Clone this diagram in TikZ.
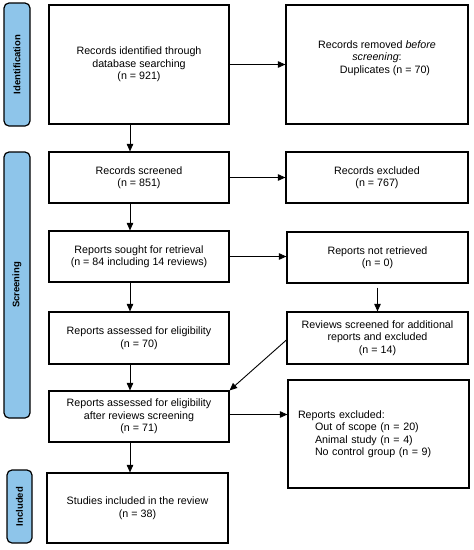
\documentclass[tikz,border=0pt]{standalone}
\usepackage{fontspec}
\setmainfont{Liberation Sans}
\usetikzlibrary{arrows.meta}
\definecolor{phaseblue}{HTML}{8EC5EA}
\begin{document}
\begin{tikzpicture}[x=1pt, y=-1pt,
  box/.style={draw=black, line width=1.2pt, align=center, inner sep=0pt, font=\fontsize{10.7}{12.5}\selectfont},
  phase/.style={draw=black, line width=1.2pt, fill=phaseblue, rounded corners=5pt, rotate=90, inner sep=0pt, font=\bfseries\fontsize{9.5}{12}\selectfont},
  arr/.style={-{Triangle[length=7.5pt,width=6.5pt]}, line width=0.9pt}]
\useasboundingbox (0,0) rectangle (474,550);
% phases
\node[phase, minimum width=123pt, minimum height=26pt] (ident) at (17,64.5) {Identification};
\node[phase, minimum width=266pt, minimum height=26pt] (screen) at (17,285) {Screening};
\node[phase, minimum width=73pt, minimum height=25pt] (incl) at (19.5,506.5) {Included};
% left column
\node[box, minimum width=180pt, minimum height=119pt] (recid) at (139,64.5) {Records identified through\\database searching\\(n = 921)};
\node[box, minimum width=180pt, minimum height=51pt] (screened) at (139,177.5) {Records screened\\(n = 851)};
\node[box, minimum width=180pt, minimum height=51pt] (sought) at (139,256.5) {Reports sought for retrieval\\(n = 84 including 14 reviews)};
\node[box, minimum width=180pt, minimum height=52pt] (assessed) at (139,338) {Reports assessed for eligibility\\(n = 70)};
\node[box, minimum width=180pt, minimum height=51pt] (after) at (139,416.5) {Reports assessed for eligibility\\after reviews screening\\(n = 71)};
\node[box, minimum width=181pt, minimum height=70pt] (studies) at (137.5,508) {Studies included in the review\\(n = 38)};
% right column
\node[box, minimum width=182pt, minimum height=119pt] (removed) at (377,64.5) {Records removed \textit{before}\\\textit{screening}:\\\hspace*{16pt}Duplicates (n = 70)\\[3pt]};
\node[box, minimum width=182pt, minimum height=51pt] (recexcl) at (377,177.5) {Records excluded\\(n = 767)};
\node[box, minimum width=181pt, minimum height=51pt] (notret) at (377.5,257.5) {Reports not retrieved\\(n = 0)};
\node[box, minimum width=181pt, minimum height=52pt] (reviews) at (377.5,338) {Reviews screened for additional\\reports and excluded\\(n = 14)};
\node[box, minimum width=181pt, minimum height=108pt, align=left, text width=161pt] (repexcl) at (378.5,434) {Reports excluded:\\\hspace*{17pt}Out of scope (n = 20)\\\hspace*{17pt}Animal study (n = 4)\\\hspace*{17pt}No control group (n = 9)};
% arrows
\path[arr] (recid) edge (removed);
\path[arr] (screened) edge (recexcl);
\path[arr] (sought.east) edge (sought.east -| notret.west);
\path[arr] ([yshift=2pt]after.east) edge ([yshift=2pt]after.east -| repexcl.west);
\path[arr] ([xshift=-9pt]recid.south) edge ([xshift=-9pt]screened.north);
\path[arr] ([xshift=-9pt]screened.south) edge ([xshift=-9pt]sought.north);
\path[arr] ([xshift=-9pt]sought.south) edge ([xshift=-9pt]assessed.north);
\path[arr] ([xshift=-9pt]assessed.south) edge ([xshift=-9pt]after.north);
\path[arr] ([xshift=-9pt]after.south) edge ([xshift=-7.5pt]studies.north);
\path[arr] ([yshift=-4pt]notret.south) edge (reviews.north);
\path[arr] ([yshift=-2pt]reviews.west) edge (after.north east);
\end{tikzpicture}
\end{document}
